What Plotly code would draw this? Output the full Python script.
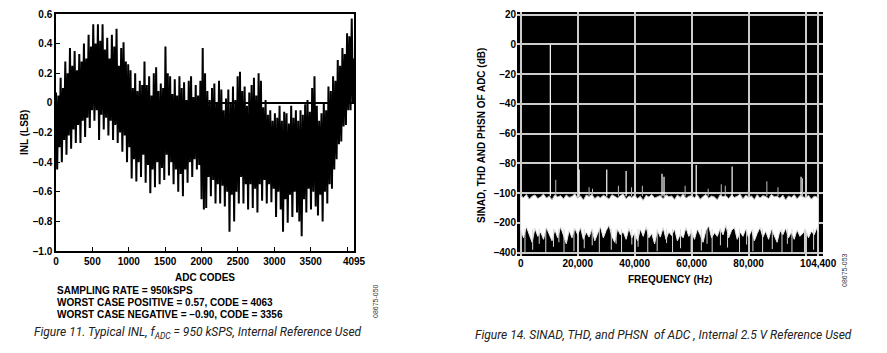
import plotly.graph_objects as go

W, H = 887, 353

# ---------------- Figure 11: typical INL ----------------
inl_codes = list(range(0, 4096, 32))          # sample codes (128)
inl_peaks = [
    0.07, 0.05, 0.17, 0.10, 0.28, 0.20, 0.37, 0.25,
    0.35, 0.22, 0.33, 0.28, 0.40, 0.30, 0.46, 0.38,
    0.53, 0.40, 0.53, 0.42, 0.53, 0.36, 0.44, 0.30,
    0.46, 0.38, 0.50, 0.25, 0.37, 0.41, 0.28, 0.26,
    0.22, 0.10, 0.20, 0.08, 0.15, 0.12, 0.28, 0.12,
    0.18, 0.05, 0.20, 0.24, 0.08, 0.13, 0.10, 0.38,
    0.20, 0.18, 0.06, 0.16, 0.05, 0.18, 0.10, 0.14,
    0.02, 0.15, 0.18, 0.04, 0.12, 0.05, 0.15, 0.37,
    0.20, 0.08, 0.02, 0.10, 0.13, 0.00, 0.15, 0.09,
    -0.05, 0.03, 0.09, 0.00, 0.11, 0.02, 0.18, 0.21,
    0.08, 0.11, -0.02, 0.07, 0.12, 0.17, 0.05, 0.20,
    0.15, -0.03, 0.02, -0.08, -0.05, -0.12, -0.07, -0.10,
    -0.02, -0.12, -0.06, -0.07, -0.14, -0.02, -0.10, -0.05,
    -0.12, -0.05, -0.08, -0.01, 0.02, -0.06, 0.10, 0.18,
    -0.02, -0.12, -0.07, 0.00, -0.05, 0.11, 0.08, 0.18,
    0.15, 0.29, 0.25, 0.37, 0.33, 0.47, 0.45, 0.57,
]
inl_troughs = [
    -0.45, -0.30, -0.40, -0.25, -0.35, -0.22, -0.31, -0.18,
    -0.27, -0.15, -0.27, -0.12, -0.23, -0.10, -0.17, -0.05,
    -0.12, -0.05, -0.25, -0.08, -0.18, -0.10, -0.22, -0.12,
    -0.25, -0.15, -0.27, -0.20, -0.33, -0.22, -0.40, -0.30,
    -0.51, -0.38, -0.53, -0.40, -0.50, -0.35, -0.54, -0.42,
    -0.61, -0.45, -0.57, -0.40, -0.55, -0.44, -0.52, -0.35,
    -0.49, -0.40, -0.55, -0.45, -0.60, -0.48, -0.63, -0.45,
    -0.54, -0.40, -0.50, -0.38, -0.45, -0.42, -0.65, -0.72,
    -0.71, -0.50, -0.63, -0.52, -0.68, -0.55, -0.68, -0.56,
    -0.70, -0.60, -0.87, -0.62, -0.80, -0.60, -0.68, -0.50,
    -0.68, -0.55, -0.72, -0.55, -0.71, -0.58, -0.74, -0.55,
    -0.66, -0.52, -0.68, -0.55, -0.67, -0.58, -0.77, -0.60,
    -0.72, -0.87, -0.65, -0.81, -0.62, -0.77, -0.60, -0.74,
    -0.80, -0.90, -0.65, -0.74, -0.58, -0.72, -0.60, -0.70,
    -0.76, -0.62, -0.80, -0.60, -0.68, -0.55, -0.58, -0.45,
    -0.38, -0.28, -0.26, -0.16, -0.15, -0.05, -0.05, 0.00,
]
inl_end_code = 4095
inl_end_value = 0.30

inl_xticks = [0, 500, 1000, 1500, 2000, 2500, 3000, 3500, 4095]
inl_xtext = ["0", "500", "1000", "1500", "2000", "2500", "3000", "3500", "4095"]
inl_minor_xticks = [4000]
inl_yticks = [-1.0, -0.8, -0.6, -0.4, -0.2, 0, 0.2, 0.4, 0.6]
inl_ytext = ["–1.0", "–0.8", "–0.6", "–0.4", "–0.2", "0", "0.2", "0.4", "0.6"]

# ---------------- Figure 14: FFT ----------------
fft_bins_hz = list(range(0, 105000, 1000)) + [104400]
fft_band_top_db = [
    -108, -115, -104, -120, -110, -106, -118, -112, -103, -116,
    -110, -122, -105, -113, -108, -119, -106, -114, -111, -102,
    -117, -109, -123, -106, -112, -104, -118, -110, -115, -107,
    -112, -120, -105, -111, -116, -108, -103, -119, -109, -114,
    -106, -118, -110, -124, -107, -113, -104, -116, -111, -108,
    -119, -105, -112, -109, -121, -106, -114, -103, -117, -110,
    -108, -115, -106, -120, -111, -104, -117, -109, -113, -122,
    -105, -112, -108, -118, -106, -114, -110, -103, -119, -107,
    -113, -109, -121, -105, -116, -108, -111, -118, -104, -112,
    -110, -117, -106, -123, -109, -114, -105, -119, -108, -112,
    -115, -107, -120, -110, -113, -118,
]
fft_band_bottom_db = [
    -240, -300, -225, -280, -330, -235, -290, -260, -310, -230,
    -270, -320, -245, -300, -225, -285, -340, -250, -300, -235,
    -280, -230, -310, -260, -295, -240, -320, -270, -225, -300,
    -250, -215, -290, -330, -240, -280, -260, -310, -235, -300,
    -265, -320, -240, -290, -225, -300, -270, -340, -250, -295,
    -230, -310, -260, -285, -240, -320, -275, -300, -230, -290,
    -255, -310, -240, -280, -330, -250, -220, -300, -265, -290,
    -235, -280, -215, -300, -250, -230, -310, -260, -290, -240,
    -300, -245, -320, -270, -230, -295, -255, -310, -240, -285,
    -330, -250, -280, -235, -300, -260, -310, -245, -290, -270,
    -240, -300, -255, -280, -230, -260,
]
fundamental_hz = 10400
fundamental_db = 0
harmonic_hz = [20500, 30200, 37000, 49600, 50300, 61600, 74200, 98400]
harmonic_db = [-84, -84, -85, -87, -89, -81, -82, -89]
noise_spike_hz = [12300, 24000, 25200, 34300, 38900, 42700, 57700, 65800,
                  70400, 71800, 79900, 86400, 90300, 98900]
noise_spike_db = [-91, -96, -97, -95, -96, -95, -95, -97,
                  -94, -95, -98, -92, -96, -90]
deep_spike_hz = [1500, 4200, 6500, 8800, 11500, 13400, 15200, 18700, 22300, 25100,
                 27600, 31800, 33500, 35400, 39000, 41200, 44600, 47900, 51200,
                 53300, 56100, 59800, 63400, 65400, 67200, 70100, 72600, 76800,
                 79300, 81500, 84900, 88300, 91700, 93600, 95200, 99600, 102800]
deep_spike_db = [-400, -380, -340, -400, -360, -330, -400, -390, -370, -350,
                 -400, -380, -340, -400, -345, -360, -400, -390, -335,
                 -400, -370, -400, -385, -340, -400, -350, -365, -400,
                 -345, -390, -400, -375, -400, -340, -395, -400, -380]

db_ticks = [20, 0, -20, -40, -60, -80, -100, -200, -400]
db_tick_text = ["20", "0", "–20", "–40", "–60", "–80", "–100", "–200", "–400"]
freq_ticks = [0, 20000, 40000, 60000, 80000, 104400]
freq_tick_text = ["0", "20,000", "40,000", "60,000", "80,000", "104,400"]
freq_minor_grid = [100000]


def db_axis(v):
    """Piecewise dB scale of the original plot: linear to -100, then -200, -400 per division."""
    if v >= -100:
        return v
    if v >= -200:
        return -100 + (v + 100) * 0.2
    return -120 + (v + 200) * 0.1


def spikes(xs, y0s, y1s):
    px, py = [], []
    for x, a, b in zip(xs, y0s, y1s):
        px += [x, x, None]
        py += [db_axis(a), db_axis(b), None]
    return px, py


fig = go.Figure()

# INL zig-zag trace
inl_x, inl_y = [], []
for c, hi, lo in zip(inl_codes, inl_peaks, inl_troughs):
    inl_x += [c, c + 16]
    inl_y += [hi, lo]
inl_x.append(inl_end_code)
inl_y.append(inl_end_value)
fig.add_trace(go.Scatter(x=inl_x, y=inl_y, mode="lines",
                         line=dict(color="black", width=2.0),
                         xaxis="x", yaxis="y", showlegend=False, hoverinfo="skip"))

# FFT band
fig.add_trace(go.Scatter(x=fft_bins_hz, y=[db_axis(v) for v in fft_band_bottom_db],
                         mode="lines", line=dict(color="#e8e8e8", width=1),
                         xaxis="x2", yaxis="y2", showlegend=False, hoverinfo="skip"))
fig.add_trace(go.Scatter(x=fft_bins_hz, y=[db_axis(v) for v in fft_band_top_db],
                         mode="lines", line=dict(color="#bdbdbd", width=1),
                         fill="tonexty", fillcolor="white",
                         xaxis="x2", yaxis="y2", showlegend=False, hoverinfo="skip"))

dx, dy = spikes(deep_spike_hz, [-240] * len(deep_spike_hz), deep_spike_db)
fig.add_trace(go.Scatter(x=dx, y=dy, mode="lines", line=dict(color="#d8d8d8", width=1),
                         xaxis="x2", yaxis="y2", showlegend=False, hoverinfo="skip"))
nx, ny = spikes(noise_spike_hz, [-110] * len(noise_spike_hz), noise_spike_db)
fig.add_trace(go.Scatter(x=nx, y=ny, mode="lines", line=dict(color="#bfbfbf", width=1),
                         xaxis="x2", yaxis="y2", showlegend=False, hoverinfo="skip"))
hx, hy = spikes(harmonic_hz + [fundamental_hz], [-110] * (len(harmonic_hz) + 1),
                harmonic_db + [fundamental_db])
fig.add_trace(go.Scatter(x=hx, y=hy, mode="lines", line=dict(color="white", width=1.2),
                         xaxis="x2", yaxis="y2", showlegend=False, hoverinfo="skip"))

bold10 = dict(family="Liberation Sans, Arial, sans-serif", size=10, color="black", weight="bold")

fig.update_layout(
    template="none",
    width=W, height=H,
    margin=dict(l=0, r=0, t=0, b=0),
    paper_bgcolor="white", plot_bgcolor="white",
    showlegend=False,
    xaxis=dict(domain=[56 / W, 354 / W], range=[0, 4095], anchor="y",
               tickmode="array", tickvals=inl_xticks, ticktext=inl_xtext,
               ticks="inside", ticklen=4, tickwidth=1, tickcolor="black",
               minor=dict(tickvals=inl_minor_xticks, ticks="inside", ticklen=4,
                          tickwidth=1, tickcolor="black", showgrid=False),
               showline=True, linecolor="black", linewidth=1.5, mirror=True,
               showgrid=False, zeroline=False, tickfont=bold10),
    yaxis=dict(domain=[1 - 251 / H, 1 - 14 / H], range=[-1.0, 0.6], anchor="x",
               tickmode="array", tickvals=inl_yticks, ticktext=inl_ytext,
               ticks="inside", ticklen=4, tickwidth=1, tickcolor="black",
               showline=True, linecolor="black", linewidth=1.5, mirror=True,
               showgrid=False, zeroline=True, zerolinecolor="black", zerolinewidth=1.5,
               tickfont=bold10),
    xaxis2=dict(domain=[517 / W, 823 / W], range=[-1300, 106100], anchor="y2",
                tickmode="array", tickvals=freq_ticks, ticktext=freq_tick_text,
                minor=dict(tickvals=freq_minor_grid, ticks="", showgrid=True,
                           gridcolor="#cccccc", gridwidth=1.5),
                ticks="", showline=False, zeroline=False,
                showgrid=True, gridcolor="#cccccc", gridwidth=1.5, tickfont=bold10),
    yaxis2=dict(domain=[1 - 256 / H, 1 - 12 / H], range=[-142.2, 21.8], anchor="x2",
                tickmode="array", tickvals=[db_axis(v) for v in db_ticks], ticktext=db_tick_text,
                ticks="", showline=False, zeroline=False,
                showgrid=True, gridcolor="#cccccc", gridwidth=1.5, tickfont=bold10),
    shapes=[dict(type="rect", xref="x2 domain", yref="y2 domain", x0=0, x1=1, y0=0, y1=1,
                 fillcolor="black", line=dict(width=0), layer="below")],
)


def ann(text, px, py, size=10, angle=0, xanchor="center", font=None, color="black"):
    f = font or dict(family="Liberation Sans, Arial, sans-serif", size=size, color=color, weight="bold")
    fig.add_annotation(text=text, x=px / W, y=1 - py / H, xref="paper", yref="paper",
                       showarrow=False, textangle=angle, xanchor=xanchor, yanchor="middle",
                       font=f)


ann("INL (LSB)", 24, 133, angle=-90)
ann("ADC CODES", 205, 277)
ann("SAMPLING RATE = 950kSPS", 55, 290, xanchor="left")
ann("WORST CASE POSITIVE = 0.57, CODE = 4063", 55, 302, xanchor="left")
ann("WORST CASE NEGATIVE = –0.90, CODE = 3356", 55, 314, xanchor="left")
ann("SINAD, THD AND PHSN OF ADC (dB)", 481, 135, angle=-90)
ann("FREQUENCY (Hz)", 670, 279)
ann("08675-050", 375, 301, angle=-90,
    font=dict(family="Liberation Sans, Arial, sans-serif", size=7, color="#333333"))
ann("08675-053", 844, 270, angle=-90,
    font=dict(family="Liberation Sans, Arial, sans-serif", size=7, color="#333333"))

cap_font = dict(family="Roboto, sans-serif", size=12, color="#222222", style="italic")
ann("Figure 11. Typical INL, f<sub>ADC</sub> = 950 kSPS, Internal Reference Used", 198, 333,
    font=cap_font)
ann("Figure 14. SINAD, THD, and PHSN\u00a0 of ADC , Internal 2.5 V Reference Used", 663, 335,
    font=cap_font)

fig.write_html("out.html")
